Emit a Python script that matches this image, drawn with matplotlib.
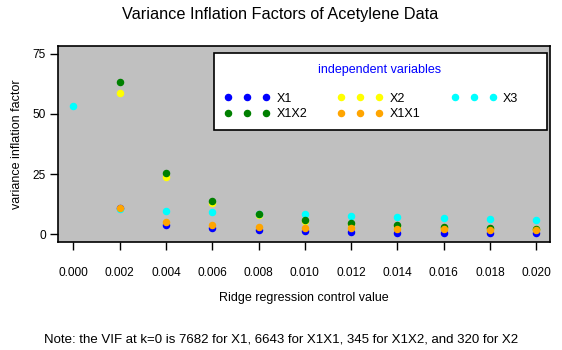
import matplotlib
matplotlib.use("Agg")
import matplotlib.pyplot as plt
from matplotlib.lines import Line2D
from matplotlib.patches import Rectangle

plt.rcParams['font.family'] = ['Liberation Sans', 'DejaVu Sans']

k = [0.000, 0.002, 0.004, 0.006, 0.008, 0.010, 0.012, 0.014, 0.016, 0.018, 0.020]
k_rest = k[1:]
vif_x1 = [10.8, 3.8, 2.6, 1.8, 1.4, 1.0, 0.7, 0.6, 0.5, 0.4]
vif_x2 = [58.7, 23.9, 12.8, 7.9, 5.4, 4.2, 3.3, 2.8, 2.4, 2.0]
vif_x3 = [53.4, 10.4, 9.8, 9.1, 8.4, 8.3, 7.7, 7.3, 6.8, 6.5, 6.1]
vif_x1x2 = [63.1, 25.6, 13.8, 8.4, 5.9, 4.6, 3.7, 3.2, 2.6, 2.2]
vif_x1x1 = [11.0, 4.9, 3.7, 3.1, 2.7, 2.5, 2.2, 2.1, 1.9, 1.8]

series = [
    ("X1", k_rest, vif_x1, "#0000FF"),
    ("X2", k_rest, vif_x2, "#FFFF00"),
    ("X3", k, vif_x3, "#00FFFF"),
    ("X1X2", k_rest, vif_x1x2, "#008000"),
    ("X1X1", k_rest, vif_x1x1, "#FFA500"),
]
legend_order = ["X1", "X1X2", "X2", "X1X1", "X3"]

xticks = [0.000, 0.002, 0.004, 0.006, 0.008, 0.010, 0.012, 0.014, 0.016, 0.018, 0.020]
xticklabels = ["0.000", "0.002", "0.004", "0.006", "0.008", "0.010",
               "0.012", "0.014", "0.016", "0.018", "0.020"]
yticks = [0, 25, 50, 75]

W, H = 562, 350
fig = plt.figure(figsize=(W / 100, H / 100), dpi=100)
ax = fig.add_axes([58.3 / W, (H - 242) / H, 491.7 / W, 196 / H])
ax.set_facecolor("#C0C0C0")

MS = 4.4
for name, xs, ys, col in series:
    ax.plot(xs, ys, linestyle="none", marker="o", markersize=MS,
            markerfacecolor=col, markeredgecolor=col, zorder=3)

ax.set_xlim(-0.000648, 0.02059)
ax.set_ylim(-3.2, 78.2)
ax.set_xticks(xticks)
ax.set_xticklabels(xticklabels)
ax.set_yticks(yticks)
ax.tick_params(axis="x", direction="out", length=6, width=1, pad=12, labelsize=8.6)
ax.tick_params(axis="y", direction="out", length=6, width=1, pad=3, labelsize=8.6)
for s in ax.spines.values():
    s.set_linewidth(1.2)

# legend box
ax.add_patch(Rectangle((214 / W, (H - 130) / H), (547 - 214) / W, (130 - 53) / H,
                       transform=fig.transFigure, facecolor="white",
                       edgecolor="black", linewidth=1.2, zorder=4))
fig.text(380 / W, 1 - 70 / H, "independent variables", color="#0000FF",
         ha="center", va="center", fontsize=9, zorder=6)

colors = {n: c for n, _, _, c in series}
handles = [Line2D([], [], linestyle="none", marker="o", markersize=MS,
                  markerfacecolor=colors[n], markeredgecolor=colors[n]) for n in legend_order]
leg = ax.legend(handles, legend_order, ncol=3, loc="upper left",
                bbox_to_anchor=(224.5 / W, 1 - 92.5 / H), bbox_transform=fig.transFigure,
                frameon=False, borderpad=0, numpoints=3, handlelength=3.64,
                handletextpad=0.5, columnspacing=2.45, labelspacing=0.3,
                fontsize=9, borderaxespad=0)
leg.set_zorder(6)

fig.text(280 / W, 1 - 14 / H, "Variance Inflation Factors of Acetylene Data",
         ha="center", va="center", fontsize=11.7)
fig.text(304 / W, 1 - 298 / H, "Ridge regression control value",
         ha="center", va="center", fontsize=9)
fig.text(17 / W, 1 - 144 / H, "variance inflation factor", rotation=90,
         ha="center", va="center", fontsize=9)
fig.text(281 / W, 1 - 340 / H,
         "Note: the VIF at k=0 is 7682 for X1, 6643 for X1X1, 345 for X1X2, and 320 for X2",
         ha="center", va="center", fontsize=9.5)

fig.savefig("out.png", dpi=100)
